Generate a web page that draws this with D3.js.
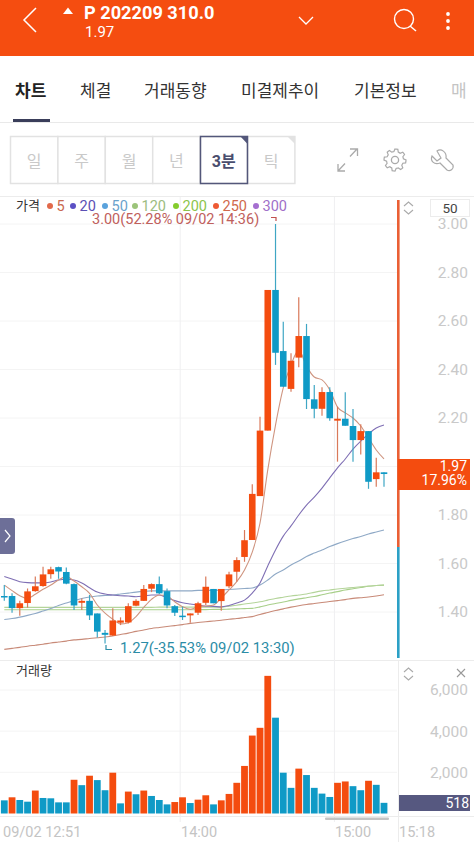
<!DOCTYPE html>
<html lang="ko">
<head>
<meta charset="utf-8">
<title>P 202209 310.0</title>
<script src="https://cdnjs.cloudflare.com/ajax/libs/d3/7.8.5/d3.min.js"></script>
<style>
html, body { margin: 0; padding: 0; background: #fff; }
svg { display: block; font-family: Roboto, "Noto Sans CJK KR", sans-serif; }
.axis text { fill: #c9c9c9; font-size: 15.5px; font-family: Roboto, sans-serif; }
.axis line, .axis path { display: none; }
</style>
</head>
<body>
<svg id="chart" width="474" height="842"></svg>
<script>
var opens = [1.466,1.466,1.416,1.437,1.486,1.507,1.556,1.585,1.565,1.515,1.438,1.446,1.394,1.314,1.303,1.356,1.357,1.426,1.446,1.496,1.515,1.486,1.424,1.385,1.386,1.397,1.438,1.495,1.445,1.506,1.566,1.627,1.697,1.878,2.148,2.728,2.476,2.320,2.449,2.538,2.277,2.238,2.307,2.189,2.197,2.167,2.109,2.146,1.948,1.976];
var highs = [1.511,1.477,1.446,1.497,1.546,1.587,1.587,1.587,1.584,1.518,1.456,1.470,1.394,1.326,1.415,1.378,1.436,1.453,1.511,1.518,1.546,1.497,1.429,1.422,1.394,1.442,1.546,1.495,1.495,1.566,1.626,1.738,1.927,2.205,2.728,3.000,2.597,2.467,2.698,2.588,2.336,2.327,2.327,2.247,2.306,2.237,2.174,2.146,2.036,1.976];
var lows = [1.446,1.397,1.385,1.418,1.484,1.504,1.537,1.537,1.514,1.408,1.408,1.367,1.295,1.270,1.301,1.346,1.353,1.424,1.445,1.482,1.474,1.415,1.383,1.367,1.356,1.388,1.429,1.436,1.405,1.498,1.525,1.607,1.697,1.878,2.148,2.419,2.329,2.308,2.409,2.237,2.199,2.209,2.189,2.020,2.168,2.020,2.050,1.908,1.917,1.917];
var closes = [1.462,1.416,1.436,1.485,1.506,1.555,1.576,1.567,1.517,1.427,1.446,1.386,1.319,1.306,1.365,1.365,1.424,1.446,1.495,1.515,1.477,1.427,1.397,1.380,1.394,1.436,1.504,1.436,1.495,1.555,1.614,1.696,1.887,2.148,2.728,2.469,2.329,2.436,2.538,2.278,2.238,2.307,2.199,2.197,2.168,2.109,2.146,1.937,1.976,1.969];

var ma5 = [1.511,1.488,1.467,1.456,1.473,1.494,1.511,1.532,1.546,1.528,1.504,1.477,1.429,1.395,1.370,1.351,1.356,1.381,1.419,1.452,1.470,1.466,1.442,1.422,1.411,1.422,1.425,1.429,1.458,1.491,1.525,1.573,1.647,1.767,1.986,2.171,2.324,2.419,2.480,2.414,2.369,2.357,2.316,2.245,2.221,2.200,2.167,2.118,2.068,2.031];
var ma20 = [1.546,1.536,1.525,1.521,1.520,1.520,1.524,1.532,1.535,1.532,1.520,1.500,1.482,1.474,1.470,1.467,1.466,1.463,1.466,1.470,1.470,1.459,1.447,1.438,1.433,1.429,1.424,1.423,1.421,1.427,1.437,1.449,1.478,1.520,1.590,1.656,1.713,1.755,1.800,1.841,1.874,1.911,1.953,1.994,2.031,2.072,2.105,2.134,2.159,2.171];
var ma50 = [1.369,1.373,1.379,1.386,1.394,1.404,1.414,1.427,1.437,1.447,1.456,1.462,1.466,1.468,1.470,1.474,1.478,1.482,1.485,1.487,1.487,1.487,1.487,1.487,1.487,1.489,1.489,1.489,1.491,1.493,1.495,1.497,1.499,1.511,1.532,1.557,1.573,1.594,1.610,1.629,1.643,1.656,1.670,1.682,1.693,1.703,1.711,1.722,1.730,1.738];
var ma120 = [1.419,1.419,1.419,1.419,1.419,1.419,1.419,1.419,1.419,1.419,1.419,1.419,1.419,1.419,1.419,1.419,1.419,1.419,1.419,1.419,1.420,1.420,1.420,1.420,1.420,1.420,1.420,1.420,1.420,1.424,1.428,1.433,1.437,1.442,1.449,1.456,1.461,1.466,1.470,1.474,1.481,1.487,1.491,1.495,1.498,1.501,1.504,1.507,1.509,1.511];
var ma200 = [1.409,1.409,1.409,1.409,1.409,1.409,1.409,1.409,1.409,1.409,1.409,1.409,1.409,1.409,1.409,1.409,1.409,1.409,1.409,1.409,1.409,1.409,1.409,1.409,1.409,1.410,1.410,1.411,1.411,1.412,1.413,1.414,1.415,1.421,1.429,1.435,1.441,1.448,1.454,1.459,1.464,1.471,1.478,1.484,1.491,1.496,1.501,1.506,1.509,1.511];
var ma250 = [1.246,1.250,1.254,1.259,1.263,1.267,1.272,1.276,1.280,1.285,1.287,1.291,1.294,1.297,1.301,1.307,1.313,1.320,1.326,1.332,1.336,1.340,1.344,1.348,1.353,1.357,1.360,1.363,1.366,1.370,1.373,1.377,1.381,1.390,1.398,1.406,1.413,1.420,1.426,1.431,1.435,1.439,1.443,1.447,1.451,1.456,1.459,1.462,1.466,1.471];

var volumes = [639,787,656,574,1115,754,738,541,541,1639,1377,1836,1623,1131,1983,492,1065,934,1115,852,656,443,557,787,508,672,885,443,639,951,1491,2311,3786,4163,6687,4655,1983,1246,2180,1868,1246,967,803,1491,1557,1328,1131,1590,1393,518];
var volumeUp = [0,1,0,0,1,0,0,0,0,1,0,1,0,0,1,0,1,0,1,0,0,0,1,1,0,1,1,0,1,1,1,1,1,1,1,0,0,0,1,0,0,0,0,1,1,0,0,1,0,0];

var priceTicks = [1.4,1.6,1.8,2.2,2.4,2.6,2.8,3.0];
var priceGrid = [1.4,1.6,1.8,2.0,2.2,2.4,2.6,2.8,3.0];
var volumeTicks = [2000,4000,6000];
var timeLabels = ['09/02 12:51','14:00','15:00','15:18'];
var timeLabelX = [3,181,335,399];
var gridTimes = [22.7,42.6];

var tabNames = ['차트','체결','거래동향','미결제추이','기본정보','매'];
var tabX = [15,80,144,241,354,451];
var periodNames = ['일','주','월','년','3분','틱'];
var legendNames = ['5','20','50','120','200','250','300'];
var legendDotX = [50,73,105,135,176,216,256];
var legendColors = ['#e2694a','#5b50c4','#5aa2dc','#9cc47a','#84cc2c','#ee5a34','#a56fd0'];
var legendText = ['#c9694f','#5b50b4','#6aa2cc','#9cbc80','#8cc44c','#d0694c','#a06fc8'];

var RED = '#f44c0f', BLUE = '#0f9ac6', GRID = '#f4f4f4', EDGE = '#ececec';

var svg = d3.select('#chart');
var x = d3.scaleLinear().domain([0,49]).range([4.3,384]);
var y = d3.scaleLinear().domain([1.4,3.0]).range([612,224]);
var yVol = d3.scaleLinear().domain([0,6000]).range([813.5,690]);
var candleW = 6.6;

// header
svg.append('rect').attr('width',474).attr('height',56).attr('fill','#f54d10');
svg.append('path').attr('d','M36,8L24,20L36,32').attr('fill','none').attr('stroke','#fff').attr('stroke-width',1.5);
svg.append('path').attr('d','M63,14L68,7.5L73,14Z').attr('fill','#fff');
svg.append('text').attr('x',84).attr('y',19).attr('fill','#fff').attr('font-size',18.2).attr('font-weight',700).text('P 202209 310.0');
svg.append('text').attr('x',85).attr('y',37).attr('fill','#fff').attr('font-size',15).text('1.97');
svg.append('path').attr('d','M299,17L306,24L313,17').attr('fill','none').attr('stroke','#fff').attr('stroke-width',1.3);
svg.append('circle').attr('cx',404).attr('cy',19).attr('r',9.5).attr('fill','none').attr('stroke','#fff').attr('stroke-width',1.4);
svg.append('path').attr('d','M410,26L416,31').attr('stroke','#fff').attr('stroke-width',1.5);
svg.selectAll('.dot').data([14,21,28]).enter().append('circle').attr('cx',448).attr('cy',function(d) { return d; }).attr('r',1.9).attr('fill','#fff');

// tabs
svg.selectAll('.tab').data(tabNames).enter().append('text')
    .attr('x',function(d,i) { return tabX[i]; })
    .attr('y',96.5)
    .attr('font-size',17)
    .attr('font-weight',function(d,i) { return i == 0 ? 700 : 400; })
    .attr('fill',function(d,i) { return i == 0 ? '#222' : (i == 5 ? '#c4c4c4' : '#333'); })
    .text(function(d) { return d; });
svg.append('rect').attr('x',13).attr('y',119).attr('width',37).attr('height',3).attr('fill','#3a3e5a');
svg.append('line').attr('x1',0).attr('x2',474).attr('y1',122.5).attr('y2',122.5).attr('stroke','#e9e9e9');

// period buttons
var period = svg.selectAll('.period').data(periodNames).enter().append('g')
    .attr('transform',function(d,i) { return 'translate(' + (10.5 + i * 47.4) + ',136.5)'; });
period.append('rect').attr('width',47.4).attr('height',47)
    .attr('fill','#fff').attr('stroke','#e2e2e2').attr('stroke-width',1.5);
period.append('text').attr('x',23.7).attr('y',30)
    .attr('text-anchor','middle').attr('font-size',16)
    .attr('font-weight',function(d,i) { return i == 4 ? 700 : 400; })
    .attr('fill',function(d,i) { return i == 4 ? '#4a4e6e' : '#c9c9c9'; })
    .text(function(d) { return d; });
svg.append('rect').attr('x',200.5).attr('y',136.5).attr('width',47).attr('height',47).attr('fill','none').attr('stroke','#53577a').attr('stroke-width',1.5);
svg.append('path').attr('d','M240,136L247.5,136L247.5,144Z').attr('fill','#53577a');
svg.append('path').attr('d','M287,136L295,136L295,144Z').attr('fill','#e2e2e2');

// tool icons
var iconColor = '#aaa';
svg.append('path').attr('d','M338,171L345,163.5M350,156.5L357,149M338,164L338,171L345,171M350,149L357.5,149L357.5,156')
    .attr('fill','none').attr('stroke',iconColor).attr('stroke-width',1.3);
svg.append('circle').attr('cx',395).attr('cy',160).attr('r',3.6).attr('fill','none').attr('stroke',iconColor).attr('stroke-width',1.3);
var gearRadii = d3.range(48).map(function(k) { return k % 6 < 3 ? 11 : 8.5; });
svg.append('path')
    .attr('transform','translate(395,160)')
    .attr('d',d3.lineRadial().angle(function(d,i) { return i / 48 * 2 * Math.PI; }).radius(function(d) { return d; }).curve(d3.curveLinearClosed)(gearRadii))
    .attr('fill','none').attr('stroke',iconColor).attr('stroke-width',1.2);
svg.append('path').attr('d','M432,156L437,161L441,158L437,151C441,148 447,152 446,158L453,165C454,169 450,172 447,170L440,163C434,165 430,161 432,156Z')
    .attr('fill','none').attr('stroke',iconColor).attr('stroke-width',1.2);

// panel frame
svg.append('line').attr('x1',0).attr('x2',474).attr('y1',196.5).attr('y2',196.5).attr('stroke',EDGE);
svg.append('line').attr('x1',0).attr('x2',474).attr('y1',660.5).attr('y2',660.5).attr('stroke',EDGE);
svg.append('line').attr('x1',0).attr('x2',474).attr('y1',816.5).attr('y2',816.5).attr('stroke',EDGE);

// grid
svg.selectAll('.grid').data(priceGrid).enter().append('line')
    .attr('x1',0).attr('x2',397)
    .attr('y1',function(d) { return y(d); }).attr('y2',function(d) { return y(d); })
    .attr('stroke',GRID);
svg.selectAll('.gridv').data(volumeTicks).enter().append('line')
    .attr('x1',0).attr('x2',397)
    .attr('y1',function(d) { return yVol(d); }).attr('y2',function(d) { return yVol(d); })
    .attr('stroke',GRID);
svg.selectAll('.gridt').data(gridTimes).enter().append('line')
    .attr('x1',function(d) { return x(d); }).attr('x2',function(d) { return x(d); })
    .attr('y1',197).attr('y2',822)
    .attr('stroke','#efeff1');
svg.append('line').attr('x1',398.5).attr('x2',398.5).attr('y1',660).attr('y2',842).attr('stroke',EDGE);

// moving averages, the candles sit on top of them
var maLine = d3.line().x(function(d,i) { return x(i); }).y(function(d) { return y(d); }).curve(d3.curveMonotoneX);
var maSeries = [
    {values: ma250, color: '#c88a78'},
    {values: ma200, color: '#a8cf8a'},
    {values: ma120, color: '#b4d49a'},
    {values: ma50, color: '#8fa9c6'},
    {values: ma20, color: '#7f6fb4'},
    {values: ma5, color: '#cf9580'}
];
svg.append('g').selectAll('path').data(maSeries).enter().append('path')
    .attr('d',function(d) { return maLine(d.values); })
    .attr('fill','none').attr('stroke',function(d) { return d.color; }).attr('stroke-width',1.1);

var candles = svg.append('g').selectAll('g').data(opens).enter().append('g');
function candleColor(i) { return closes[i] < opens[i] ? BLUE : RED; }
candles.append('line')
    .attr('x1',function(d,i) { return x(i); }).attr('x2',function(d,i) { return x(i); })
    .attr('y1',function(d,i) { return y(highs[i]); }).attr('y2',function(d,i) { return y(lows[i]); })
    .attr('stroke',function(d,i) { return closes[i] < opens[i] ? '#3fa6c4' : '#d9795a'; })
    .attr('stroke-width',1.2);
candles.append('rect')
    .attr('x',function(d,i) { return x(i) - candleW / 2; })
    .attr('width',candleW)
    .attr('y',function(d,i) { return y(Math.max(opens[i],closes[i])); })
    .attr('height',function(d,i) { return Math.max(1.5, Math.abs(y(opens[i]) - y(closes[i]))); })
    .attr('fill',function(d,i) { return candleColor(i); });

// legend
svg.append('text').attr('x',16).attr('y',210).attr('font-size',13).attr('fill','#333').text('가격');
var legend = svg.selectAll('.legend').data(legendNames).enter().append('g');
legend.append('circle')
    .attr('cx',function(d,i) { return legendDotX[i]; }).attr('cy',206).attr('r',3)
    .attr('fill',function(d,i) { return legendColors[i]; });
legend.append('text')
    .attr('x',function(d,i) { return legendDotX[i] + 6.5; }).attr('y',211)
    .attr('font-size',14.5)
    .attr('fill',function(d,i) { return legendText[i]; })
    .text(function(d) { return d; });

// high / low notes
svg.append('text').attr('x',92).attr('y',224).attr('font-size',14.5).attr('fill','#c0605c').text('3.00(52.28% 09/02 14:36)');
svg.append('path').attr('d','M271,217.5L276,217.5L276,221').attr('fill','none').attr('stroke','#c0504c').attr('stroke-width',1.2);
svg.append('text').attr('x',120).attr('y',652.5).attr('font-size',14.8).attr('fill','#2b8ca6').text('1.27(-35.53% 09/02 13:30)');
svg.append('path').attr('d','M106,645L106,649.5L112,649.5').attr('fill','none').attr('stroke','#2b8ca6').attr('stroke-width',1.2);

// price bar and axis
svg.append('rect').attr('x',397).attr('y',y(3.0) - 24).attr('width',2.6).attr('height',547 - y(3.0) + 24).attr('fill','#ea5f34');
svg.append('rect').attr('x',397).attr('y',547).attr('width',2.6).attr('height',111).attr('fill','#2ba0c6');

svg.append('g').attr('class','axis').attr('transform','translate(468,0)')
    .call(d3.axisLeft(y).tickValues(priceTicks).tickSize(0).tickPadding(0).tickFormat(d3.format('.2f')));
svg.append('g').attr('class','axis').attr('transform','translate(468,0)')
    .call(d3.axisLeft(yVol).tickValues(volumeTicks).tickSize(0).tickPadding(0).tickFormat(d3.format(',')));

svg.append('rect').attr('x',430.5).attr('y',199.5).attr('width',39).attr('height',17).attr('fill','#fff').attr('stroke','#ececec');
svg.append('text').attr('x',450).attr('y',213).attr('text-anchor','middle').attr('font-size',13.5).attr('fill','#444').text('50');

function updown(cy) {
    svg.append('path')
        .attr('d','M404,' + (cy - 2) + 'L408.5,' + (cy - 6) + 'L413,' + (cy - 2) + 'M404,' + (cy + 2) + 'L408.5,' + (cy + 6) + 'L413,' + (cy + 2))
        .attr('fill','none').attr('stroke','#aaa').attr('stroke-width',1.1);
}
updown(208);
updown(674);
svg.append('path').attr('d','M457,669L465,677M465,669L457,677').attr('stroke','#999').attr('stroke-width',1.1);

// current price box
svg.append('rect').attr('x',398).attr('y',459).attr('width',72).attr('height',31).attr('fill',RED);
svg.append('text').attr('x',467).attr('y',471).attr('text-anchor','end').attr('font-size',14).attr('fill','#fff').text('1.97');
svg.append('text').attr('x',467).attr('y',485).attr('text-anchor','end').attr('font-size',14).attr('fill','#fff').text('17.96%');

// left side handle
svg.append('path').attr('d','M0,518L12,518Q15,518 15,521L15,551Q15,554 12,554L0,554Z').attr('fill','#6d6f98');
svg.append('path').attr('d','M5,530L10,536L5,542').attr('fill','none').attr('stroke','#fff').attr('stroke-width',1.2);

// volume
svg.append('text').attr('x',16).attr('y',675).attr('font-size',13).attr('fill','#333').text('거래량');
svg.append('g').selectAll('rect').data(volumes).enter().append('rect')
    .attr('x',function(d,i) { return x(i) - 3.4; })
    .attr('width',6.8)
    .attr('y',function(d) { return yVol(d); })
    .attr('height',function(d) { return yVol(0) - yVol(d); })
    .attr('fill',function(d,i) { return volumeUp[i] ? RED : BLUE; });
svg.append('rect').attr('x',399).attr('y',795).attr('width',71).attr('height',16).attr('fill','#565880');
svg.append('text').attr('x',469).attr('y',808).attr('text-anchor','end').attr('font-size',14).attr('fill','#fff').text('518');

// time axis
svg.append('rect').attr('x',325).attr('y',817.5).attr('width',64).attr('height',2.5).attr('rx',1).attr('fill','#c4c4c4');
svg.selectAll('.time').data(timeLabels).enter().append('text')
    .attr('x',function(d,i) { return timeLabelX[i]; })
    .attr('y',837)
    .attr('font-size',14.5)
    .attr('fill','#c4c4c4')
    .text(function(d) { return d; });
</script>
</body>
</html>
